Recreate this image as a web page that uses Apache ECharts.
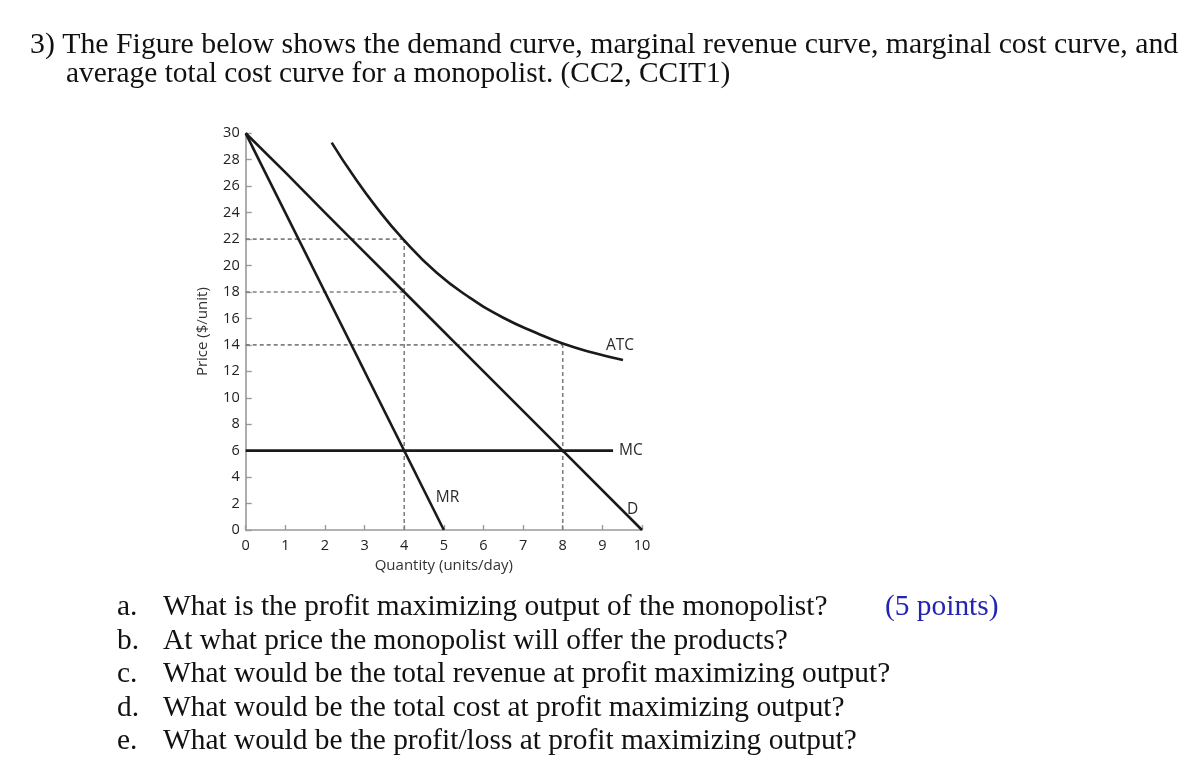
<!DOCTYPE html>
<html>
<head>
<meta charset="utf-8">
<script src="https://cdn.jsdelivr.net/npm/echarts@6/dist/echarts.min.js"></script>
<style>
html,body{margin:0;padding:0;background:#fff;}
#c{width:1200px;height:778px;}
</style>
</head>
<body>
<div id="c"></div>
<script>
// ---- data ----
const xTicks = [0,1,2,3,4,5,6,7,8,9,10];
const yTicks = [0,2,4,6,8,10,12,14,16,18,20,22,24,26,28,30];
const demandQ = [0, 1, 2, 3, 4, 6, 8, 10];
const demandP = [30, 27.05, 24, 21, 18, 12, 6, 0];
const mrQ = [0, 5];
const mrP = [30, 0];
const mcQ = [0, 9.27];
const mcP = [6, 6];
const atcQ = [2.17, 2.71, 3.3, 3.97, 4.82, 5.66, 6.5, 7.34, 8.0, 8.77, 9.52];
const atcP = [29.3, 26.82, 24.4, 22.0, 19.45, 17.56, 16.05, 14.9, 14.1, 13.4, 12.85];
// guide lines
const guideH22 = [[0,22],[4,22]];
const guideH18 = [[0,18],[4,18]];
const guideH14 = [[0,14],[8,14]];
const guideV4 = [[4,0],[4,22]];
const guideV8 = [[8,0],[8,14]];
const titleLines = [
  "3) The Figure below shows the demand curve, marginal revenue curve, marginal cost curve, and",
  "average total cost curve for a monopolist. (CC2, CCIT1)"
];
const questionLetters = ["a.","b.","c.","d.","e."];
const questions = [
  "What is the profit maximizing output of the monopolist?",
  "At what price the monopolist will offer the products?",
  "What would be the total revenue at profit maximizing output?",
  "What would be the total cost at profit maximizing output?",
  "What would be the profit/loss at profit maximizing output?"
];
const pointsNote = "(5 points)";

const zip = (a,b) => a.map((v,i)=>[v,b[i]]);

const chart = echarts.init(document.getElementById('c'));
const serif = "'Liberation Serif','Times New Roman',serif";
const sans = "'Open Sans','Noto Sans',sans-serif";
const curveStyle = {color:'#1a1a1a', width:2.6};
const dashStyle = {color:'#808080', width:1.6, type:[4,3]};
const lblStyle = {fontFamily:sans, fontSize:15.5, color:'#2a2a2a'};

function guide(data){
  return {type:'line', data, symbol:'none', silent:true, lineStyle:dashStyle, z:1};
}

const qTop = [593, 627, 660, 694, 727];
const graphics = [
  {type:'text', left:30, top:30, style:{text:titleLines[0], font:"29.8px "+serif, fill:'#111'}},
  {type:'text', left:66, top:60, style:{text:titleLines[1], font:"29.4px "+serif, fill:'#111'}},
  {type:'text', left:885, top:qTop[0], style:{text:pointsNote, font:"29.4px "+serif, fill:'#2323b4'}}
];
questions.forEach((q,i)=>{
  graphics.push({type:'text', left:117, top:qTop[i], style:{text:questionLetters[i], font:"29.4px "+serif, fill:'#111'}});
  graphics.push({type:'text', left:163, top:qTop[i], style:{text:q, font:"29.4px "+serif, fill:'#111'}});
});

chart.setOption({
  animation:false,
  grid:{left:245.7, right:558, top:133.3, bottom:248, containLabel:false},
  xAxis:{
    type:'value', min:0, max:10, interval:1,
    name:'Quantity (units/day)', nameLocation:'middle', nameGap:27,
    nameTextStyle:{fontFamily:sans, fontSize:15, color:'#333'},
    axisLine:{lineStyle:{color:'#9a9a9a', width:1.6}},
    axisTick:{inside:true, length:5, lineStyle:{color:'#9a9a9a', width:1.4}},
    axisLabel:{fontFamily:sans, fontSize:14.5, color:'#222', margin:8},
    splitLine:{show:false}
  },
  yAxis:{
    type:'value', min:0, max:30, interval:2,
    name:'Price ($/unit)', nameLocation:'middle', nameGap:35, nameRotate:90,
    nameTextStyle:{fontFamily:sans, fontSize:15, color:'#333'},
    axisLine:{show:true, lineStyle:{color:'#9a9a9a', width:1.6}},
    axisTick:{show:true, inside:true, length:6, lineStyle:{color:'#9a9a9a', width:1.4}},
    axisLabel:{fontFamily:sans, fontSize:14.5, color:'#222', margin:6},
    splitLine:{show:false}
  },
  graphic:graphics,
  series:[
    guide(guideH22), guide(guideH18), guide(guideH14), guide(guideV4), guide(guideV8),
    {type:'line', name:'MR', data:zip(mrQ,mrP), symbol:'none', lineStyle:curveStyle, z:3,
      endLabel:Object.assign({show:true, formatter:'MR', distance:0, offset:[-8,-32]}, lblStyle)},
    {type:'line', name:'D', data:zip(demandQ,demandP), symbol:'none', lineStyle:curveStyle, z:3,
      endLabel:Object.assign({show:true, formatter:'D', distance:0, offset:[-15,-20]}, lblStyle)},
    {type:'line', name:'MC', data:zip(mcQ,mcP), symbol:'none', lineStyle:curveStyle, z:3,
      endLabel:Object.assign({show:true, formatter:'MC', distance:0, offset:[6,0]}, lblStyle)},
    {type:'line', name:'ATC', data:zip(atcQ,atcP), symbol:'none', smooth:0.5, lineStyle:curveStyle, z:3,
      endLabel:Object.assign({show:true, formatter:'ATC', distance:0, offset:[-17,-15]}, lblStyle)}
  ]
});
</script>
</body>
</html>
